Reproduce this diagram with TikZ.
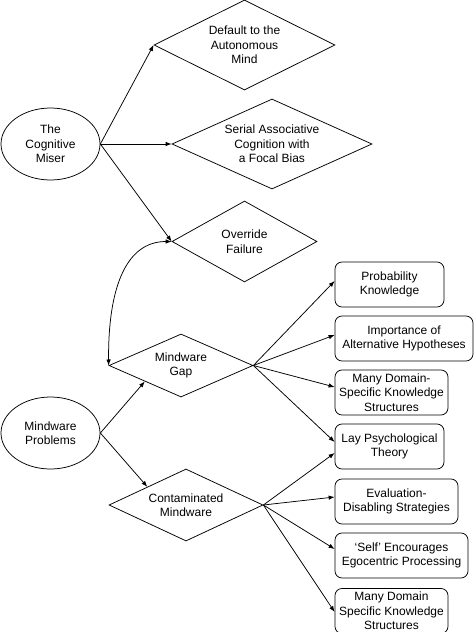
\documentclass[tikz,border=0pt]{standalone}
\usepackage{fontspec}
\setmainfont{Liberation Sans}
\usetikzlibrary{shapes.geometric,arrows.meta}
\begin{document}
\begin{tikzpicture}[x=1pt,y=-1pt,
  every node/.style={font=\fontsize{12}{14.5}\selectfont, align=center, inner sep=0pt},
  dia/.style={draw, shape=diamond, aspect=2.2, line width=0.75pt},
  ell/.style={draw, shape=ellipse, line width=0.75pt, minimum width=99pt, minimum height=72pt},
  rbox/.style={draw, rounded corners=7pt, line width=0.75pt, minimum height=45pt},
  arr/.style={line width=0.75pt, -{Latex[length=6pt,width=4.5pt]}},
  darr/.style={line width=0.75pt, {Latex[length=6pt,width=4.5pt]}-{Latex[length=6pt,width=4.5pt]}}
]
\useasboundingbox (0,0) rectangle (474,632);

\node[ell] (miser) at (50.5,144) {The\\Cognitive\\Miser};
\node[ell] (prob) at (50.5,433) {Mindware\\Problems};

\node[dia, minimum width=181pt, minimum height=90pt] (d1) at (244.5,45) {Default to the\\Autonomous\\Mind};
\node[dia, minimum width=200pt, minimum height=90pt] (d2) at (272,144) {Serial Associative\\Cognition with\\a Focal Bias};
\node[dia, minimum width=145pt, minimum height=81pt] (d3) at (244.5,241.5) {Override\\Failure};
\node[dia, minimum width=144pt, minimum height=63pt] (gap) at (181,365.5) {Mindware\\Gap};
\node[dia, minimum width=154pt, minimum height=72pt] (cont) at (186,505) {Contaminated\\Mindware};

\node[rbox, minimum width=109pt] (b1) at (389.5,284.5) {Probability\\Knowledge};
\node[rbox, minimum width=138pt] (b2) at (404,338.5) {Importance of\\Alternative Hypotheses};
\node[rbox, minimum width=113pt] (b3) at (391.5,392.5) {Many Domain-\\Specific Knowledge\\Structures};
\node[rbox, minimum width=109pt] (b4) at (389.5,446.5) {Lay Psychological\\Theory};
\node[rbox, minimum width=123pt] (b5) at (396.5,501.5) {Evaluation-\\Disabling Strategies};
\node[rbox, minimum width=133pt] (b6) at (401.5,555.5) {`Self' Encourages\\Egocentric Processing};
\node[rbox, minimum width=113pt] (b7) at (391.5,611) {Many Domain\\Specific Knowledge\\Structures};

\draw[arr] (miser.east) -- (d1.west);
\draw[arr] (miser.east) -- (d2.west);
\draw[arr] (miser.east) -- (d3.west);

\draw[darr] (d3.west) .. controls (125,241.5) and (108,290) .. (gap.west);

\draw[arr] (prob.east) -- (gap.south west);
\draw[arr] (prob.east) -- (cont.north west);

\draw[arr] (gap.east) -- ([yshift=3.5pt]b1.west);
\draw[arr] (gap.east) -- ([yshift=3.5pt]b2.west);
\draw[arr] (gap.east) -- ([yshift=5.5pt]b3.west);
\draw[arr] (gap.east) -- ([yshift=4.5pt]b4.west);

\draw[arr] (cont.east) -- ([yshift=-6.5pt]b4.west);
\draw[arr] (cont.east) -- ([yshift=4.5pt]b5.west);
\draw[arr] (cont.east) -- ([yshift=6.5pt]b6.west);
\draw[arr] (cont.east) -- ([yshift=-1pt]b7.west);
\end{tikzpicture}
\end{document}
